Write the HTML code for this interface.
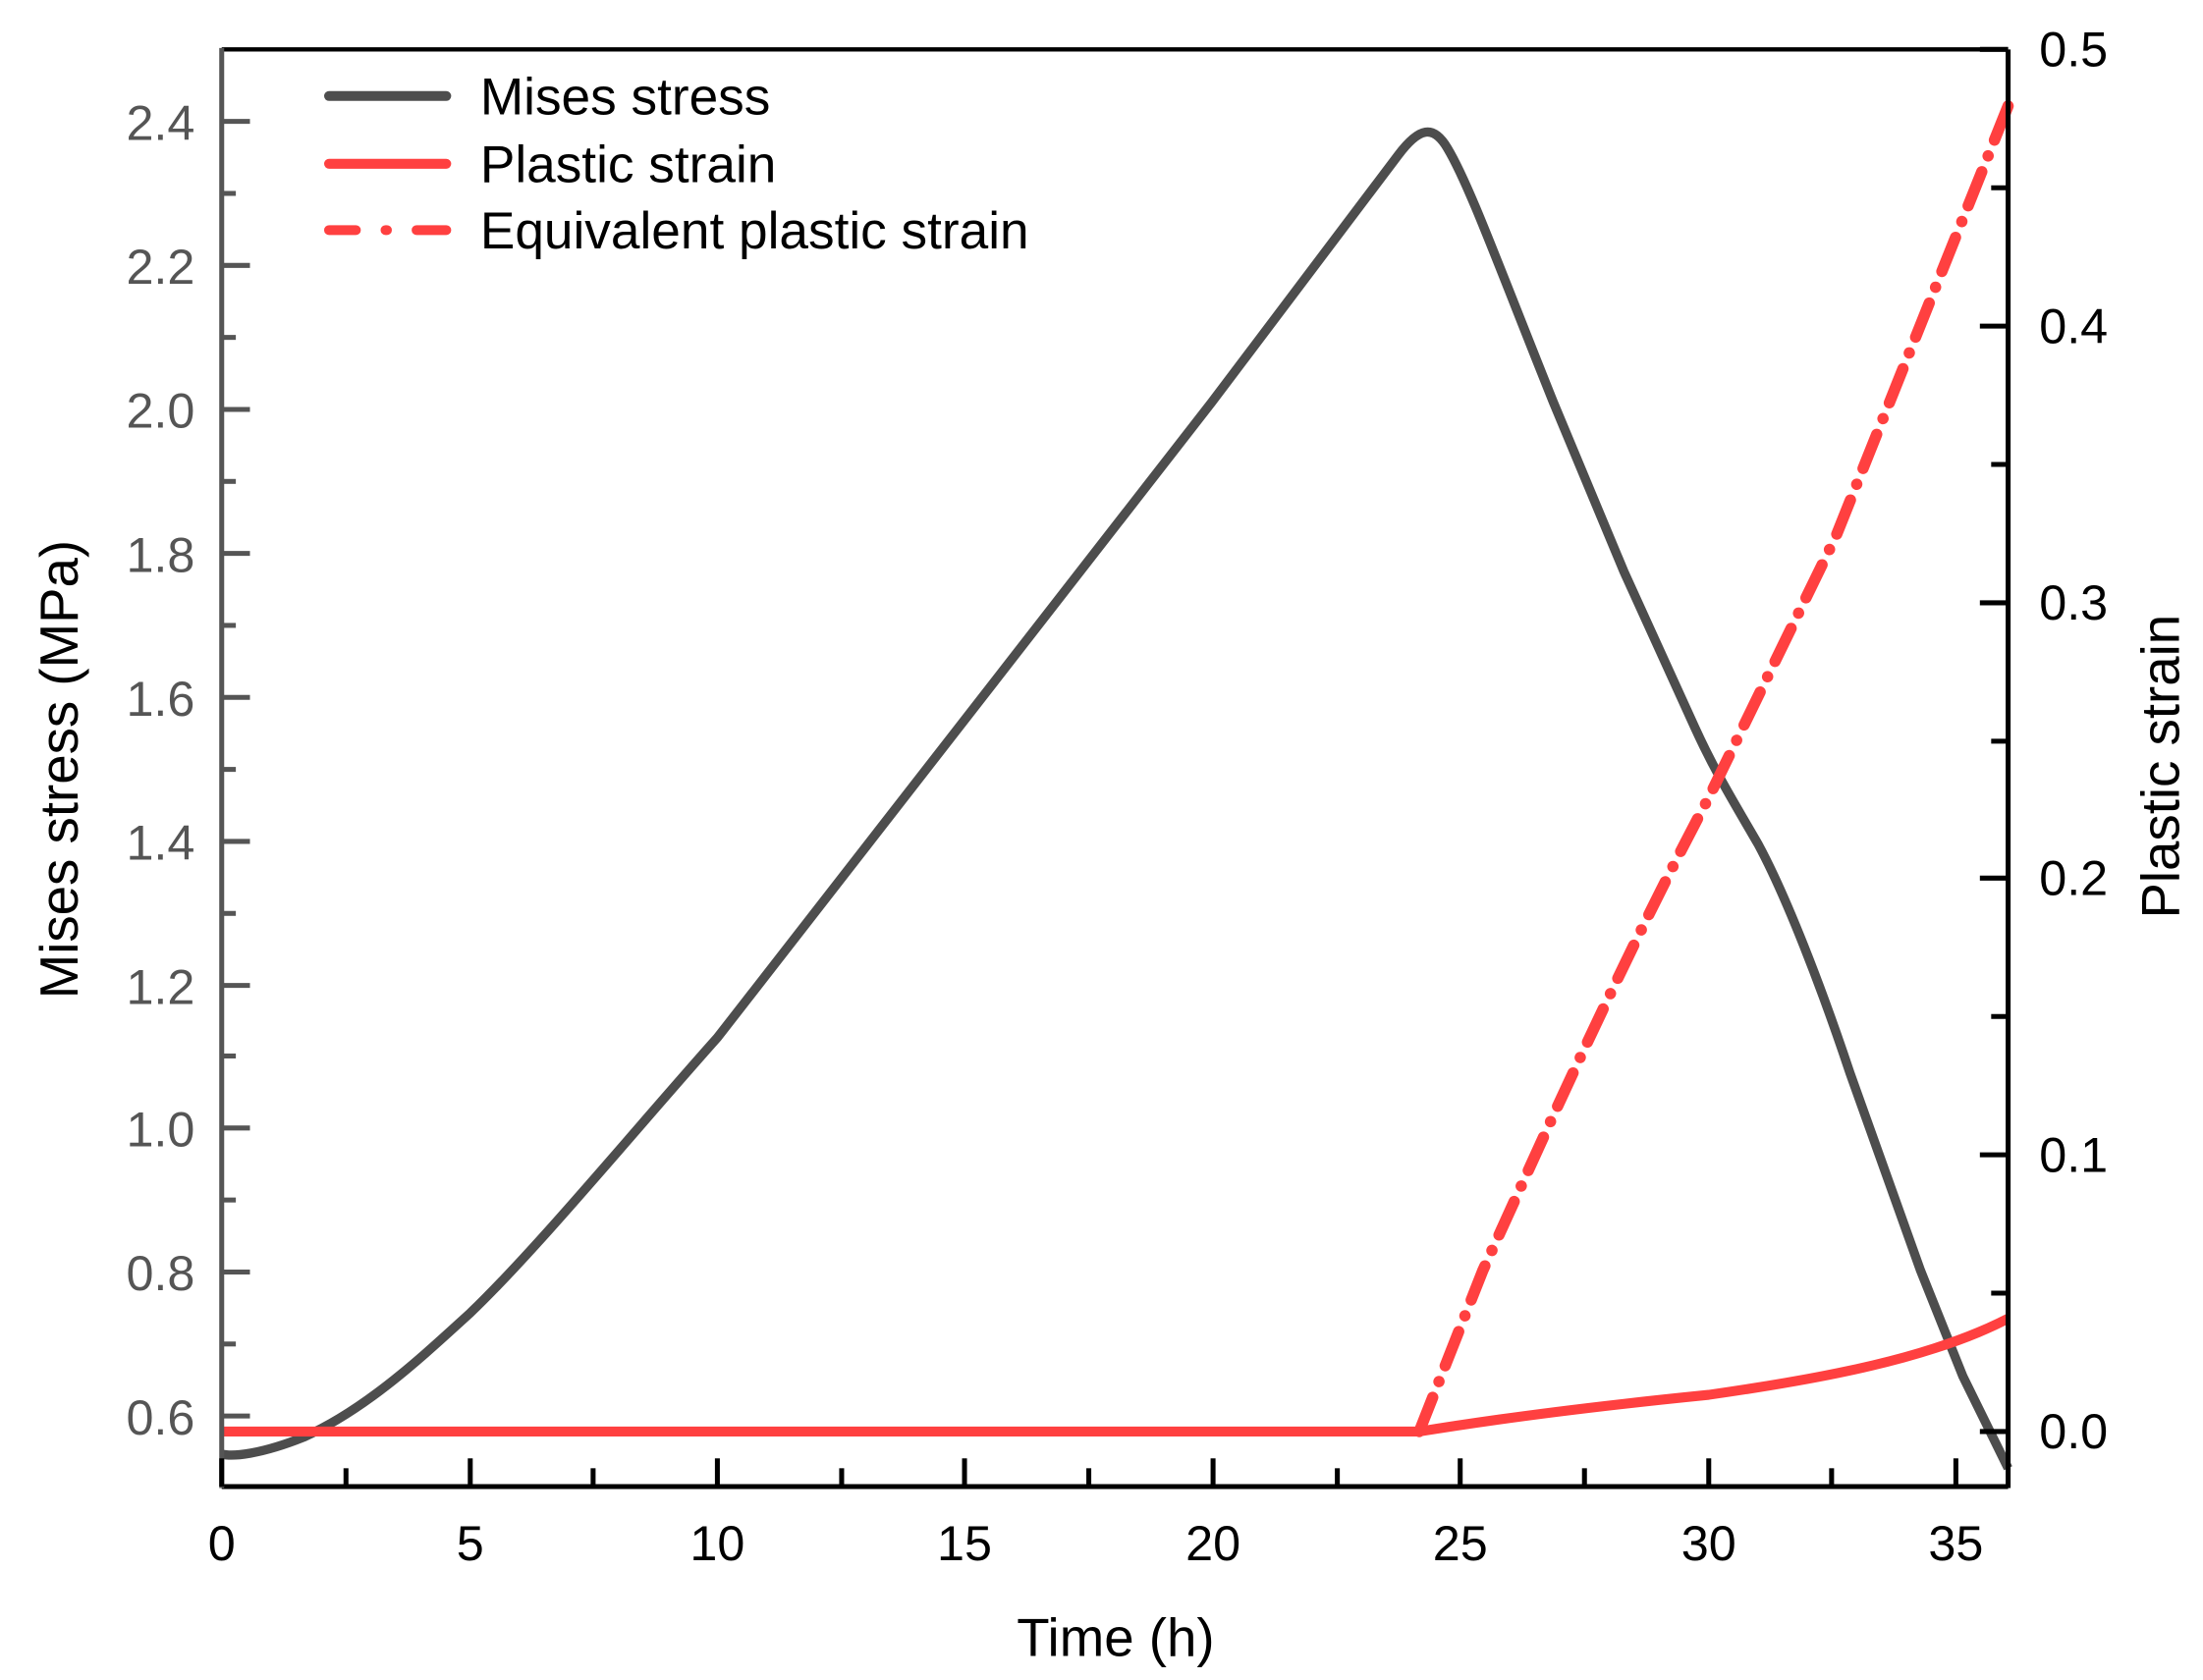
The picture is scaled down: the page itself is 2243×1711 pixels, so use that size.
<!DOCTYPE html>
<html><head><meta charset="utf-8"><style>html,body{margin:0;padding:0;background:#fff}svg{display:block}</style></head>
<body>
<svg width="2243" height="1711" viewBox="0 0 1560 1190" preserveAspectRatio="none" xmlns="http://www.w3.org/2000/svg" font-family="Liberation Sans, Arial, sans-serif">
<rect width="1560" height="1190" fill="#fff"/>
<path d="M157,1030 C165,1032 185,1030 215,1018 C260,998 300,960 333,930 C380,885 450,800 508,735 L858,285 L990,110 C1005,90 1015,88 1025,105 C1040,130 1060,185 1100,285 L1150,405 L1200,515 C1215,548 1230,572 1245,598 C1265,635 1290,700 1310,760 L1360,900 L1390,975 L1422,1040" fill="none" stroke="#4d4d4d" stroke-width="6.5" stroke-linejoin="round"/>
<path d="M157,1014 L1005,1014 C1060,1005 1130,996 1210,988 C1280,978 1330,968 1370,955 C1395,947 1410,940 1422,934" fill="none" stroke="#ff4040" stroke-width="7"/>
<path d="M1005,1014 L1050,900 L1100,790 C1130,725 1170,640 1210,565 L1300,380 L1350,255 L1422,75" fill="none" stroke="#ff4040" stroke-width="8" stroke-dasharray="26,12,0.1,12" stroke-linecap="round"/>
<line x1="157" y1="35" x2="1422" y2="35" stroke="#000" stroke-width="3"/>
<line x1="157" y1="1053" x2="1422" y2="1053" stroke="#000" stroke-width="3.5"/>
<line x1="1422" y1="35" x2="1422" y2="1054" stroke="#000" stroke-width="3.5"/>
<line x1="157" y1="34" x2="157" y2="1054" stroke="#555" stroke-width="3.5"/>
<g stroke="#555" stroke-width="3.5">
<line x1="157" y1="86" x2="177" y2="86"/><line x1="157" y1="188" x2="177" y2="188"/><line x1="157" y1="290" x2="177" y2="290"/><line x1="157" y1="392" x2="177" y2="392"/><line x1="157" y1="494" x2="177" y2="494"/><line x1="157" y1="596" x2="177" y2="596"/><line x1="157" y1="698" x2="177" y2="698"/><line x1="157" y1="799" x2="177" y2="799"/><line x1="157" y1="901" x2="177" y2="901"/><line x1="157" y1="1003" x2="177" y2="1003"/>
<line x1="157" y1="137" x2="167" y2="137"/><line x1="157" y1="239" x2="167" y2="239"/><line x1="157" y1="341" x2="167" y2="341"/><line x1="157" y1="443" x2="167" y2="443"/><line x1="157" y1="545" x2="167" y2="545"/><line x1="157" y1="647" x2="167" y2="647"/><line x1="157" y1="748" x2="167" y2="748"/><line x1="157" y1="850" x2="167" y2="850"/><line x1="157" y1="952" x2="167" y2="952"/>
</g>
<g fill="#555" font-size="35" text-anchor="end">
<text x="138" y="99">2.4</text><text x="138" y="201">2.2</text><text x="138" y="303">2.0</text><text x="138" y="405">1.8</text><text x="138" y="507">1.6</text><text x="138" y="609">1.4</text><text x="138" y="711">1.2</text><text x="138" y="812">1.0</text><text x="138" y="914">0.8</text><text x="138" y="1016">0.6</text>
</g>
<g stroke="#000" stroke-width="3.5">
<line x1="1422" y1="35" x2="1402" y2="35"/><line x1="1422" y1="231" x2="1402" y2="231"/><line x1="1422" y1="427" x2="1402" y2="427"/><line x1="1422" y1="622" x2="1402" y2="622"/><line x1="1422" y1="818" x2="1402" y2="818"/><line x1="1422" y1="1014" x2="1402" y2="1014"/>
<line x1="1422" y1="133" x2="1410" y2="133"/><line x1="1422" y1="329" x2="1410" y2="329"/><line x1="1422" y1="525" x2="1410" y2="525"/><line x1="1422" y1="720" x2="1410" y2="720"/><line x1="1422" y1="916" x2="1410" y2="916"/>
<line x1="157" y1="1053" x2="157" y2="1033"/><line x1="333" y1="1053" x2="333" y2="1033"/><line x1="508" y1="1053" x2="508" y2="1033"/><line x1="683" y1="1053" x2="683" y2="1033"/><line x1="859" y1="1053" x2="859" y2="1033"/><line x1="1034" y1="1053" x2="1034" y2="1033"/><line x1="1210" y1="1053" x2="1210" y2="1033"/><line x1="1385" y1="1053" x2="1385" y2="1033"/>
<line x1="245" y1="1053" x2="245" y2="1040"/><line x1="420" y1="1053" x2="420" y2="1040"/><line x1="596" y1="1053" x2="596" y2="1040"/><line x1="771" y1="1053" x2="771" y2="1040"/><line x1="947" y1="1053" x2="947" y2="1040"/><line x1="1122" y1="1053" x2="1122" y2="1040"/><line x1="1297" y1="1053" x2="1297" y2="1040"/>
</g>
<g fill="#000" font-size="35">
<text x="1444" y="47">0.5</text><text x="1444" y="243">0.4</text><text x="1444" y="439">0.3</text><text x="1444" y="634">0.2</text><text x="1444" y="830">0.1</text><text x="1444" y="1026">0.0</text>
</g>
<g fill="#000" font-size="35" text-anchor="middle">
<text x="157" y="1105">0</text><text x="333" y="1105">5</text><text x="508" y="1105">10</text><text x="683" y="1105">15</text><text x="859" y="1105">20</text><text x="1034" y="1105">25</text><text x="1210" y="1105">30</text><text x="1385" y="1105">35</text>
<text font-size="38" x="790" y="1173">Time (h)</text>
<text font-size="38" transform="translate(55,545) rotate(-90)">Mises stress (MPa)</text>
<text font-size="38" transform="translate(1543,543) rotate(-90)">Plastic strain</text>
</g>
<line x1="233" y1="68" x2="316" y2="68" stroke="#4d4d4d" stroke-width="7" stroke-linecap="round"/>
<line x1="233" y1="116" x2="316" y2="116" stroke="#ff4040" stroke-width="7" stroke-linecap="round"/>
<path d="M233,163 L252,163 M273,163 L274,163 M295,163 L316,163" stroke="#ff4040" stroke-width="7" stroke-linecap="round"/>
<g fill="#000" font-size="37">
<text x="340" y="81">Mises stress</text><text x="340" y="129">Plastic strain</text><text x="340" y="176">Equivalent plastic strain</text>
</g>
</svg>
</body></html>
